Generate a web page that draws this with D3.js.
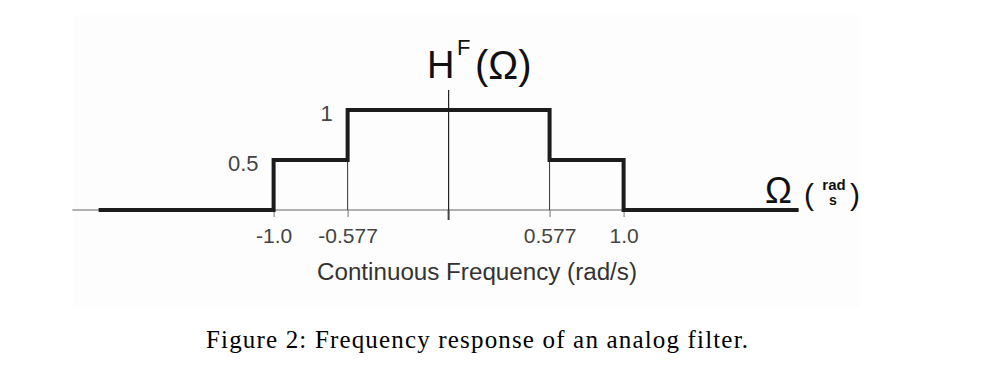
<!DOCTYPE html>
<html>
<head>
<meta charset="utf-8">
<script src="https://cdn.jsdelivr.net/npm/d3@7"></script>
<style>
  body { margin: 0; background: #fff; }
  svg { display: block; }
</style>
</head>
<body>
<div id="chart"></div>
<script>
// step boundaries (rad/s) and the gain on each piece between them
const edges = [-2, -1, -0.577, 0.577, 1, 2];
const levels = [0, 0.5, 1, 0.5, 0];
const xTicks = [-1, -0.577, 0.577, 1];
const xTickLabels = ["-1.0", "-0.577", "0.577", "1.0"];
const levelLabels = [0.5, 1];
const levelText = ["0.5", "1"];
const axisExtent = [-2.15, 2];

const W = 987, H = 375;
const INK = "#1c1c1c";
const SANS = "Liberation Sans, Arial, sans-serif";

const svg = d3.select("#chart")
    .append("svg")
    .attr("width", W)
    .attr("height", H);

// the pasted figure has a barely grey background
svg.append("rect")
    .attr("x", 73).attr("y", 15)
    .attr("width", 787).attr("height", 293)
    .attr("fill", "#fdfdfd");

const x = d3.scaleLinear().domain([-1, 1]).range([273.6, 623.6]);
const y = d3.scaleLinear().domain([0, 1]).range([210, 110]);

const g = svg.append("g");

// horizontal axis
g.append("line")
    .attr("x1", x(axisExtent[0])).attr("x2", x(axisExtent[1]))
    .attr("y1", y(0)).attr("y2", y(0))
    .attr("stroke", "#666")
    .attr("stroke-width", 1.2);

// ticks + labels
const axis = g.append("g")
    .attr("transform", `translate(0, ${y(0)})`)
    .call(d3.axisBottom(x)
        .tickValues(xTicks)
        .tickSize(7)
        .tickPadding(11)
        .tickFormat((d, i) => xTickLabels[i]));
axis.select("path.domain").remove();
axis.selectAll(".tick line").attr("stroke", "#888").attr("stroke-width", 1.2);
axis.selectAll(".tick text")
    .attr("font-family", SANS)
    .attr("font-size", 21)
    .attr("fill", "#444");

// thin guides from the top level down through the axis at +-0.577
g.selectAll(".guide")
    .data([-0.577, 0.577])
    .enter()
    .append("line")
    .attr("class", "guide")
    .attr("x1", d => x(d)).attr("x2", d => x(d))
    .attr("y1", y(1)).attr("y2", y(0))
    .attr("stroke", "#333")
    .attr("stroke-width", 1);

// vertical axis through zero
g.append("line")
    .attr("x1", x(0)).attr("x2", x(0))
    .attr("y1", 90).attr("y2", y(0))
    .attr("stroke", "#222")
    .attr("stroke-width", 1.2);
g.append("line")
    .attr("x1", x(0)).attr("x2", x(0))
    .attr("y1", y(0)).attr("y2", y(0) + 10)
    .attr("stroke", "#444")
    .attr("stroke-width", 2);

// the response itself
const pts = edges.map((e, i) => ({ x: e, y: levels[Math.min(i, levels.length - 1)] }));
const line = d3.line()
    .x(d => x(d.x))
    .y(d => y(d.y))
    .curve(d3.curveStepAfter);

g.append("path")
    .datum(pts)
    .attr("d", line)
    .attr("fill", "none")
    .attr("stroke", INK)
    .attr("stroke-width", 4)
    .attr("stroke-linejoin", "miter");

// level labels sit left of the step that rises to them
levelLabels.forEach((v, i) => {
    const k = levels.indexOf(v);
    g.append("text")
        .attr("x", x(edges[k]) - 15)
        .attr("y", y(v) + 11)
        .attr("text-anchor", "end")
        .attr("font-family", SANS)
        .attr("font-size", 22)
        .attr("fill", "#444")
        .text(levelText[i]);
});

// axis title
g.append("text")
    .attr("x", 477)
    .attr("y", 280)
    .attr("text-anchor", "middle")
    .attr("font-family", SANS)
    .attr("font-size", 23)
    .attr("fill", "#333")
    .attr("textLength", 320)
    .attr("lengthAdjust", "spacingAndGlyphs")
    .text("Continuous Frequency (rad/s)");

// hand-written H^F(Omega) above the plot
const titleText = g.append("text")
    .attr("font-family", SANS)
    .attr("fill", "#111");
titleText.append("tspan").attr("x", 427).attr("y", 78).attr("font-size", 38).text("H");
titleText.append("tspan").attr("x", 457).attr("y", 55).attr("font-size", 22).text("F");
titleText.append("tspan").attr("x", 475).attr("y", 79).attr("font-size", 40).text("(Ω)");

// hand-written Omega (rad/s) at the right end of the axis
g.append("text")
    .attr("x", 765).attr("y", 203)
    .attr("font-family", SANS)
    .attr("font-size", 36)
    .attr("fill", "#111")
    .text("Ω");
g.append("text")
    .attr("x", 804).attr("y", 205)
    .attr("font-family", SANS)
    .attr("font-size", 30)
    .attr("fill", "#111")
    .text("(");
g.append("text")
    .attr("x", 834).attr("y", 190)
    .attr("text-anchor", "middle")
    .attr("font-family", SANS)
    .attr("font-weight", "bold")
    .attr("font-size", 15)
    .attr("fill", "#111")
    .text("rad");
g.append("text")
    .attr("x", 833).attr("y", 205)
    .attr("text-anchor", "middle")
    .attr("font-family", SANS)
    .attr("font-weight", "bold")
    .attr("font-size", 14)
    .attr("fill", "#111")
    .text("s");
g.append("text")
    .attr("x", 850).attr("y", 205)
    .attr("font-family", SANS)
    .attr("font-size", 30)
    .attr("fill", "#111")
    .text(")");

// caption
svg.append("text")
    .attr("x", 206)
    .attr("y", 348)
    .attr("font-family", "Liberation Serif, Times New Roman, serif")
    .attr("font-size", 25)
    .attr("fill", "#000")
    .attr("textLength", 542)
    .attr("lengthAdjust", "spacing")
    .text("Figure 2: Frequency response of an analog filter.");
</script>
</body>
</html>
